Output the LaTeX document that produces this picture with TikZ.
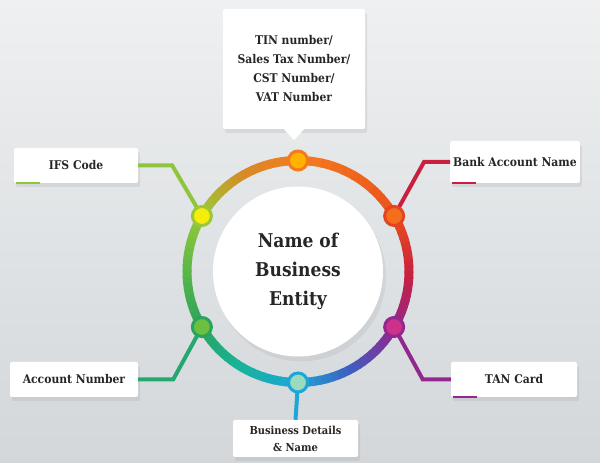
\documentclass[tikz,border=0pt]{standalone}
\usepackage{fontspec}
\setmainfont{DejaVu Serif Condensed}
\usetikzlibrary{shadows}
\definecolor{inktext}{HTML}{262626}
\definecolor{bgtop}{HTML}{EEF0F1}
\definecolor{bgbottom}{HTML}{D3D7DA}
\definecolor{ringA}{HTML}{F47A20}
\definecolor{ringB}{HTML}{E94E1B}
\definecolor{ringC}{HTML}{C8203F}
\definecolor{ringD}{HTML}{92278F}
\definecolor{ringE}{HTML}{3F5DBF}
\definecolor{ringF}{HTML}{1CA7D8}
\definecolor{ringG}{HTML}{19B29A}
\definecolor{ringH}{HTML}{2BA35C}
\definecolor{ringI}{HTML}{5CB947}
\definecolor{ringJ}{HTML}{9BC83B}
\definecolor{ringK}{HTML}{D98A26}

\begin{document}
\begin{tikzpicture}[x=1pt, y=1pt, every node/.style={text=inktext, font=\bfseries\fontsize{12}{19}\selectfont},
        labelbox/.style={fill=white, rounded corners=2pt, align=center, inner sep=3pt,
            drop shadow={opacity=0.15, shadow xshift=2pt, shadow yshift=-4pt}},
        dot/.style={circle, line width=3pt, minimum size=19pt, inner sep=0pt},
        link/.style={line width=4pt}]
        \useasboundingbox (0,0) rectangle (600,463);
        \shade[top color=bgtop, bottom color=bgbottom] (0,0) rectangle (600,463);

        \coordinate (hub) at (298,191.5);

        % colour ring
        \foreach \from/\ca/\cb in {90/ringA/ringB, 30/ringB/ringC, 0/ringC/ringD, -30/ringD/ringE,
            -60/ringE/ringF, -90/ringF/ringG, -120/ringG/ringH, -150/ringH/ringI,
            -180/ringI/ringJ, -210/ringJ/ringK, -240/ringK/ringA} {
            \pgfmathtruncatemacro\arcspan{(\from==90) ? 60 : 30}
            \foreach \k in {0,...,9} {
                \pgfmathsetmacro\st{\from-\arcspan*\k/10}
                \pgfmathsetmacro\en{\st-\arcspan/10-0.6}
                \pgfmathtruncatemacro\mix{100-10*\k}
                \draw[line width=9pt, draw=\ca!\mix!\cb]
                    ([shift={(\st:111)}]hub) arc[start angle=\st, end angle=\en, radius=111];
            }
        }

        \node (entity) [circle, fill=white, minimum size=170pt, align=center,
            font=\bfseries\fontsize{19}{29}\selectfont,
            drop shadow={opacity=0.12, shadow xshift=3pt, shadow yshift=-5pt}] at (hub) {Name of\\Business\\Entity};

        % label boxes
        \node (tin) [labelbox, minimum width=142pt, minimum height=120pt] at (294,394) {TIN number/\\Sales Tax Number/\\CST Number/\\VAT Number};
        \fill[white] ([xshift=-10pt]tin.south) -- ([yshift=-11pt]tin.south) -- ([xshift=10pt]tin.south) -- cycle;
        \node (ifs) [labelbox, minimum width=124pt, minimum height=35pt] at (76,297.5) {IFS Code};
        \node (bank) [labelbox, minimum width=128pt, minimum height=42pt] at (515,301) {Bank Account Name};
        \node (acct) [labelbox, minimum width=128pt, minimum height=35pt] at (74,83.5) {Account Number};
        \node (tan) [labelbox, minimum width=126pt, minimum height=35pt] at (514,83.5) {TAN Card};
        \node (bdet) [labelbox, minimum width=125pt, minimum height=37pt,
            font=\bfseries\fontsize{11}{17}\selectfont] at (295.5,24.5) {Business Details\\\& Name};

        % connectors
        \draw[link, ringJ!80!ringI] (ifs.east) -- ++(34,0) -- ([shift={(150:111)}]hub);
        \draw[link, ringC] (bank.west) -- ++(-26,0) -- ([shift={(30:111)}]hub);
        \draw[link, ringH!70!ringG] (acct.east) -- ++(35,0) -- ([shift={(-150:111)}]hub);
        \draw[link, ringD] (tan.west) -- ++(-28,0) -- ([shift={(-30:111)}]hub);
        \draw[link, ringF] ([shift={(-90:111)}]hub) -- (bdet.north);
        \draw[ringJ!80!ringI, line width=1.5pt] (ifs.south west) ++(2,0) -- ++(24,0);
        \draw[ringC, line width=1.5pt] (bank.south west) ++(2,0) -- ++(24,0);
        \draw[ringD, line width=1.5pt] (tan.south west) ++(2,0) -- ++(24,0);

        % ring dots
        \node (dtin) [dot, draw=ringA, fill=orange!60!yellow] at ([shift={(90:111)}]hub) {};
        \node (dbank) [dot, draw=ringB!80!ringC, fill=ringA!90!red] at ([shift={(30:111)}]hub) {};
        \node (dtan) [dot, draw=ringD, fill=magenta!60!ringD] at ([shift={(-30:111)}]hub) {};
        \node (dbdet) [dot, draw=ringF, fill=cyan!30!green!40!white] at ([shift={(-90:111)}]hub) {};
        \node (dacct) [dot, draw=ringH, fill=ringI!90!yellow] at ([shift={(-150:111)}]hub) {};
        \node (difs) [dot, draw=ringJ, fill=yellow!90!ringJ] at ([shift={(150:111)}]hub) {};
    \end{tikzpicture}
\end{document}
